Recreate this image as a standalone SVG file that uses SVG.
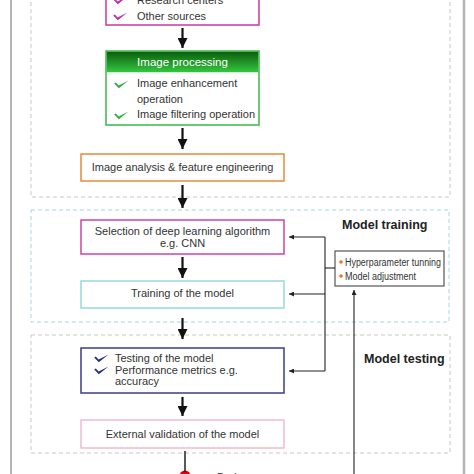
<svg xmlns="http://www.w3.org/2000/svg" width="474" height="474" viewBox="0 0 474 474">
<defs>
<style>
.t{font-family:"Liberation Sans",Arial,sans-serif;font-size:11px;fill:#333}
.c{text-anchor:middle}
.b{font-weight:bold;font-size:12.5px;fill:#222}
.s{font-size:10px}
.box{fill:#fff;stroke-width:1.5}
.grp{fill:none;stroke-width:1;stroke-dasharray:4 3}
.flow{stroke:#111;stroke-width:2.2;fill:none;marker-end:url(#big)}
.fb{stroke:#222;stroke-width:1.1;fill:none}
.fba{stroke:#222;stroke-width:1.1;fill:none;marker-end:url(#small)}
</style>
<marker id="big" viewBox="0 0 10 10" refX="10" refY="5" markerUnits="userSpaceOnUse" markerWidth="11" markerHeight="10" orient="auto">
<path d="M0,0 L10,5 L0,10 Z" fill="#111"/>
</marker>
<marker id="small" viewBox="0 0 10 10" refX="10" refY="5" markerUnits="userSpaceOnUse" markerWidth="6" markerHeight="5" orient="auto">
<path d="M0,0 L10,5 L0,10 Z" fill="#222"/>
</marker>
<linearGradient id="hdr" x1="0" y1="0" x2="0" y2="1">
<stop offset="0" stop-color="#0a5f0c"/>
<stop offset="1" stop-color="#35c640"/>
</linearGradient>
<path id="chk" d="M-4.8,-2.6 L-3.2,-3.4 L-0.4,-0.6 L9.5,-5.6 L-0.2,2.2 Z"/>
</defs>
<rect width="474" height="474" fill="#fff"/>
<g id="frame">
<line x1="11" y1="0" x2="11" y2="474" stroke="#b4b4b4" stroke-width="2"/>
<line x1="464" y1="0" x2="464" y2="474" stroke="#b4b4b4" stroke-width="2.5"/>
</g>
<g id="groups">
<rect class="grp" x="31" y="-20" width="419" height="217" stroke="#c8c8c8"/>
<rect class="grp" x="31" y="210" width="418" height="112" stroke="#a9d6dc"/>
<rect class="grp" x="31" y="335" width="419" height="118" stroke="#c8c8c8"/>
<text class="t b" x="342" y="228.5">Model training</text>
<text class="t b" x="364" y="363">Model testing</text>
</g>
<g id="data-sources">
<rect class="box" x="106" y="-60" width="153" height="85" stroke="#c63aa2"/>
<use href="#chk" x="118" y="2" fill="#c0309c"/>
<use href="#chk" x="118" y="18" fill="#c0309c"/>
<text class="t" x="137" y="4">Research centers</text>
<text class="t" x="137" y="20">Other sources</text>
</g>
<g id="image-processing">
<rect class="box" x="106" y="51" width="153" height="74" stroke="#38b84a"/>
<rect x="106.75" y="51.75" width="151.5" height="20.5" fill="url(#hdr)"/>
<text class="t c" x="182.5" y="66" style="fill:#fff;font-size:11.5px">Image processing</text>
<use href="#chk" x="119" y="86" fill="#2fae3e"/>
<use href="#chk" x="119" y="117" fill="#2fae3e"/>
<text class="t" x="137" y="87">Image enhancement</text>
<text class="t" x="137" y="103">operation</text>
<text class="t" x="137" y="118">Image filtering operation</text>
</g>
<g id="feature-engineering">
<rect class="box" x="81" y="154" width="203" height="27" stroke="#e8883a"/>
<text class="t c" x="182.5" y="171">Image analysis &amp; feature engineering</text>
</g>
<g id="algorithm-selection">
<rect class="box" x="81" y="220" width="203" height="34" stroke="#cc44a4"/>
<text class="t c" x="182.5" y="235">Selection of deep learning algorithm</text>
<text class="t c" x="182.5" y="247">e.g. CNN</text>
</g>
<g id="training">
<rect class="box" x="81" y="281" width="203" height="27" stroke="#96d8de"/>
<text class="t c" x="182.5" y="297">Training of the model</text>
</g>
<g id="hyperparameter">
<rect x="335" y="251" width="109" height="35" fill="#fff" stroke="#555" stroke-width="1.2"/>
<circle cx="341" cy="262" r="1.8" fill="#f07030"/>
<circle cx="341" cy="276" r="1.8" fill="#f07030"/>
<text class="t s" x="345" y="265.5" textLength="96" lengthAdjust="spacingAndGlyphs">Hyperparameter tunning</text>
<text class="t s" x="345" y="279.5" textLength="71" lengthAdjust="spacingAndGlyphs">Model adjustment</text>
</g>
<g id="testing">
<rect class="box" x="81" y="348" width="203" height="45" stroke="#3b3b8c"/>
<use href="#chk" x="99" y="360" fill="#2e2e82"/>
<use href="#chk" x="99" y="372" fill="#2e2e82"/>
<text class="t" x="115" y="362">Testing of the model</text>
<text class="t" x="115" y="374">Performance metrics e.g.</text>
<text class="t" x="115" y="385">accuracy</text>
</g>
<g id="external-validation">
<rect class="box" x="81" y="420" width="203" height="28" stroke="#f0bccd"/>
<text class="t c" x="182.5" y="438">External validation of the model</text>
</g>
<g id="decision">
<circle cx="185" cy="476" r="5.5" fill="#e00000"/>
<text class="t" x="217" y="481">Bad</text>
</g>
<g id="connectors">
<line class="flow" x1="182.5" y1="28" x2="182.5" y2="48"/>
<line class="flow" x1="182.5" y1="128" x2="182.5" y2="149"/>
<line class="flow" x1="182.5" y1="185" x2="182.5" y2="208"/>
<line class="flow" x1="182.5" y1="257" x2="182.5" y2="278"/>
<line class="flow" x1="182.5" y1="318" x2="182.5" y2="339"/>
<line class="flow" x1="182.5" y1="397" x2="182.5" y2="416"/>
<line x1="185" y1="451" x2="185" y2="472" stroke="#222" stroke-width="1.5"/>
<polyline class="fb" points="325,237 325,371"/>
<line class="fba" x1="325" y1="237" x2="289" y2="237"/>
<line class="fba" x1="325" y1="294" x2="289" y2="294"/>
<line class="fba" x1="325" y1="371" x2="289" y2="371"/>
<line class="fb" x1="325" y1="268" x2="335" y2="268"/>
<line class="fba" x1="354" y1="480" x2="354" y2="290"/>
</g>
</svg>
